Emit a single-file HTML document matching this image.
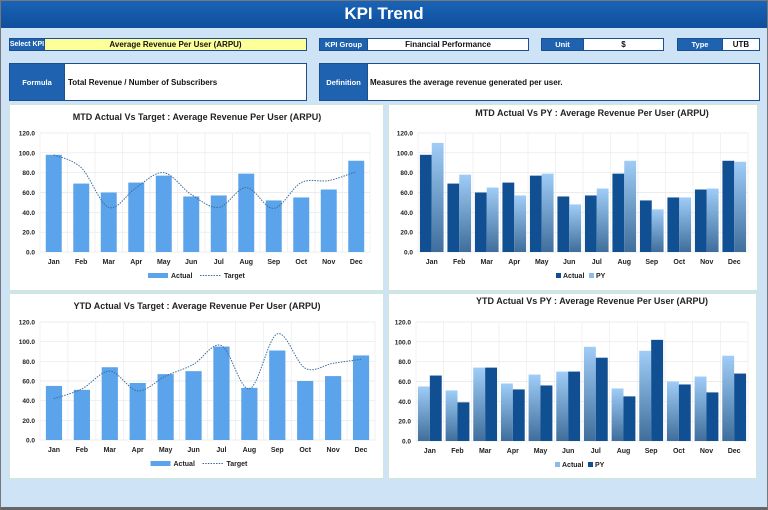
<!DOCTYPE html>
<html><head><meta charset="utf-8">
<style>
*{margin:0;padding:0;box-sizing:border-box}
body{width:768px;height:510px;overflow:hidden;background:#cfe3f6;font-family:"Liberation Sans",Arial,sans-serif;position:relative}
.abs{position:absolute}
.title{left:0;top:0;width:768px;height:28px;background:linear-gradient(#1a64b8,#0f4f9c);color:#fff;font-weight:bold;font-size:17px;text-align:center;line-height:28px}
.lab{background:#1f62b0;color:#fff;font-size:7.5px;font-weight:bold;display:flex;align-items:center;justify-content:center;border:1px solid #1a4f90;white-space:nowrap;padding:0}
.val{background:#fff;font-size:8px;font-weight:bold;display:flex;align-items:center;justify-content:center;border:1px solid #1a4f90;color:#111;white-space:nowrap}
.panel{background:#fff;border:1px solid #cfe7d4}
.frame{left:0;top:0;width:768px;height:510px;border:1px solid #777;border-bottom:3px solid #666;pointer-events:none}
</style></head><body>
<div class="abs title">KPI Trend</div>

<div class="abs lab" style="left:9px;top:38px;width:36px;height:13px;font-size:7px">Select KPI</div>
<div class="abs val" style="left:44px;top:38px;width:263px;height:13px;background:#ffff99">Average Revenue Per User (ARPU)</div>
<div class="abs lab" style="left:319px;top:38px;width:49px;height:13px">KPI Group</div>
<div class="abs val" style="left:367px;top:38px;width:162px;height:13px">Financial Performance</div>
<div class="abs lab" style="left:541px;top:38px;width:43px;height:13px">Unit</div>
<div class="abs val" style="left:583px;top:38px;width:81px;height:13px">$</div>
<div class="abs lab" style="left:677px;top:38px;width:46px;height:13px">Type</div>
<div class="abs val" style="left:722px;top:38px;width:38px;height:13px">UTB</div>

<div class="abs lab" style="left:9px;top:63px;width:56px;height:38px">Formula</div>
<div class="abs val" style="left:64px;top:63px;width:243px;height:38px;justify-content:flex-start;padding-left:3px">Total Revenue / Number of Subscribers</div>
<div class="abs lab" style="left:319px;top:63px;width:49px;height:38px">Definition</div>
<div class="abs val" style="left:367px;top:63px;width:393px;height:38px;justify-content:flex-start;padding-left:2px">Measures the average revenue generated per user.</div>

<div class="abs panel" style="left:9px;top:104px;width:375px;height:187px"></div>
<div class="abs panel" style="left:388px;top:104px;width:370px;height:187px"></div>
<div class="abs panel" style="left:9px;top:293px;width:375px;height:186px"></div>
<div class="abs panel" style="left:388px;top:293px;width:369px;height:186px"></div>

<svg class="abs" id="s" style="left:0;top:0" width="768" height="510"></svg>
<div class="abs frame"></div>
<script>
const M=["Jan","Feb","Mar","Apr","May","Jun","Jul","Aug","Sep","Oct","Nov","Dec"];
let out=`<defs><linearGradient id="lg" x1="0" y1="0" x2="0" y2="1"><stop offset="0" stop-color="#9fcdf7"/><stop offset="1" stop-color="#3f6e9c"/></linearGradient></defs>`;
function txt(x,y,t,s,a,w){return `<text x="${x}" y="${y}" font-size="${s}" text-anchor="${a||'middle'}" font-weight="${w||'bold'}" fill="#222" font-family="Liberation Sans, Arial, sans-serif">${t}</text>`}
function chart(o){
  const {x0,x1,y0,y1,title,tx,ty}=o;
  const cw=(x1-x0)/12, sc=(y1-y0)/120;
  out+=txt(tx,ty,title,9);
  for(let i=0;i<=6;i++){const y=y1-i*20*sc;out+=`<line x1="${x0}" x2="${x1}" y1="${y}" y2="${y}" stroke="#e6e6e6" stroke-width="0.7"/>`;out+=txt(x0-5,y+2.5,(i*20).toFixed(1),6.5,'end');}
  for(let i=0;i<=12;i++){const x=x0+i*cw;out+=`<line x1="${x}" x2="${x}" y1="${y0}" y2="${y1}" stroke="#ececec" stroke-width="0.7"/>`;}
  M.forEach((m,i)=>out+=txt(x0+(i+.5)*cw,y1+12,m,7));
  if(o.target){
    const bw=cw*0.58;
    o.a.forEach((v,i)=>{const x=x0+(i+.5)*cw-bw/2;out+=`<rect x="${x}" y="${y1-v*sc}" width="${bw}" height="${v*sc}" fill="#5ba3ea"/>`;});
    const p=o.target.map((v,i)=>[x0+(i+.5)*cw,y1-v*sc]);
    let d=`M${p[0][0]},${p[0][1]}`;
    for(let i=0;i<p.length-1;i++){const a=p[Math.max(i-1,0)],b=p[i],c=p[i+1],e=p[Math.min(i+2,p.length-1)];
      d+=` C${b[0]+(c[0]-a[0])/6},${b[1]+(c[1]-a[1])/6} ${c[0]-(e[0]-b[0])/6},${c[1]-(e[1]-b[1])/6} ${c[0]},${c[1]}`;}
    out+=`<path d="${d}" fill="none" stroke="#3d6c9c" stroke-width="1" stroke-dasharray="1.5,1.2"/>`;
    const ly=y1+27;const cx=(x0+x1)/2;
    out+=`<rect x="${cx-57}" y="${ly-6}" width="20" height="5" fill="#5ba3ea"/>`+txt(cx-34,ly-1,"Actual",7,'start');
    out+=`<line x1="${cx-5}" x2="${cx+16}" y1="${ly-3.5}" y2="${ly-3.5}" stroke="#3d6c9c" stroke-dasharray="1.5,1.2"/>`+txt(cx+19,ly-1,"Target",7,'start');
  } else {
    const bw=cw*0.43;
    o.a.forEach((v,i)=>{const x=x0+(i+.07)*cw;out+=`<rect x="${x}" y="${y1-v*sc}" width="${bw}" height="${v*sc}" fill="${o.swap?'url(#lg)':'#0f4f92'}"/>`;});
    o.b.forEach((v,i)=>{const x=x0+(i+.07)*cw+bw;out+=`<rect x="${x}" y="${y1-v*sc}" width="${bw}" height="${v*sc}" fill="${o.swap?'#0f4f92':'url(#lg)'}"/>`;});
    const ly=y1+27;const cx=(x0+x1)/2;
    out+=`<rect x="${cx-27}" y="${ly-6}" width="5" height="5" fill="${o.swap?'#8dbbe6':'#0f4f92'}"/>`+txt(cx-20,ly-1,"Actual",7,'start');
    out+=`<rect x="${cx+6}" y="${ly-6}" width="5" height="5" fill="${o.swap?'#0f4f92':'#8dbbe6'}"/>`+txt(cx+13,ly-1,"PY",7,'start');
  }
}
chart({x0:40,x1:370,y0:133,y1:252,title:"MTD Actual Vs Target : Average Revenue Per User (ARPU)",tx:197,ty:120,
 a:[98,69,60,70,77,56,57,79,52,55,63,92],target:[98,85,45,65,80,58,45,65,44,70,72,81]});
chart({x0:418,x1:748,y0:133,y1:252,title:"MTD Actual Vs PY : Average Revenue Per User (ARPU)",tx:592,ty:116,
 a:[98,69,60,70,77,56,57,79,52,55,63,92],b:[110,78,65,57,79,48,64,92,43,55,64,91]});
chart({x0:40,x1:375,y0:322,y1:440,title:"YTD Actual Vs Target : Average Revenue Per User (ARPU)",tx:197,ty:309,
 a:[55,51,74,58,67,70,95,53,91,60,65,86],target:[42,52,70,50,65,77,96,52,108,73,78,82]});
chart({x0:416,x1:748,y0:322,y1:441,title:"YTD Actual Vs PY : Average Revenue Per User (ARPU)",tx:592,ty:304,swap:true,
 a:[55,51,74,58,67,70,95,53,91,60,65,86],b:[66,39,74,52,56,70,84,45,102,57,49,68]});
document.getElementById('s').innerHTML=out;
</script>
</body></html>
